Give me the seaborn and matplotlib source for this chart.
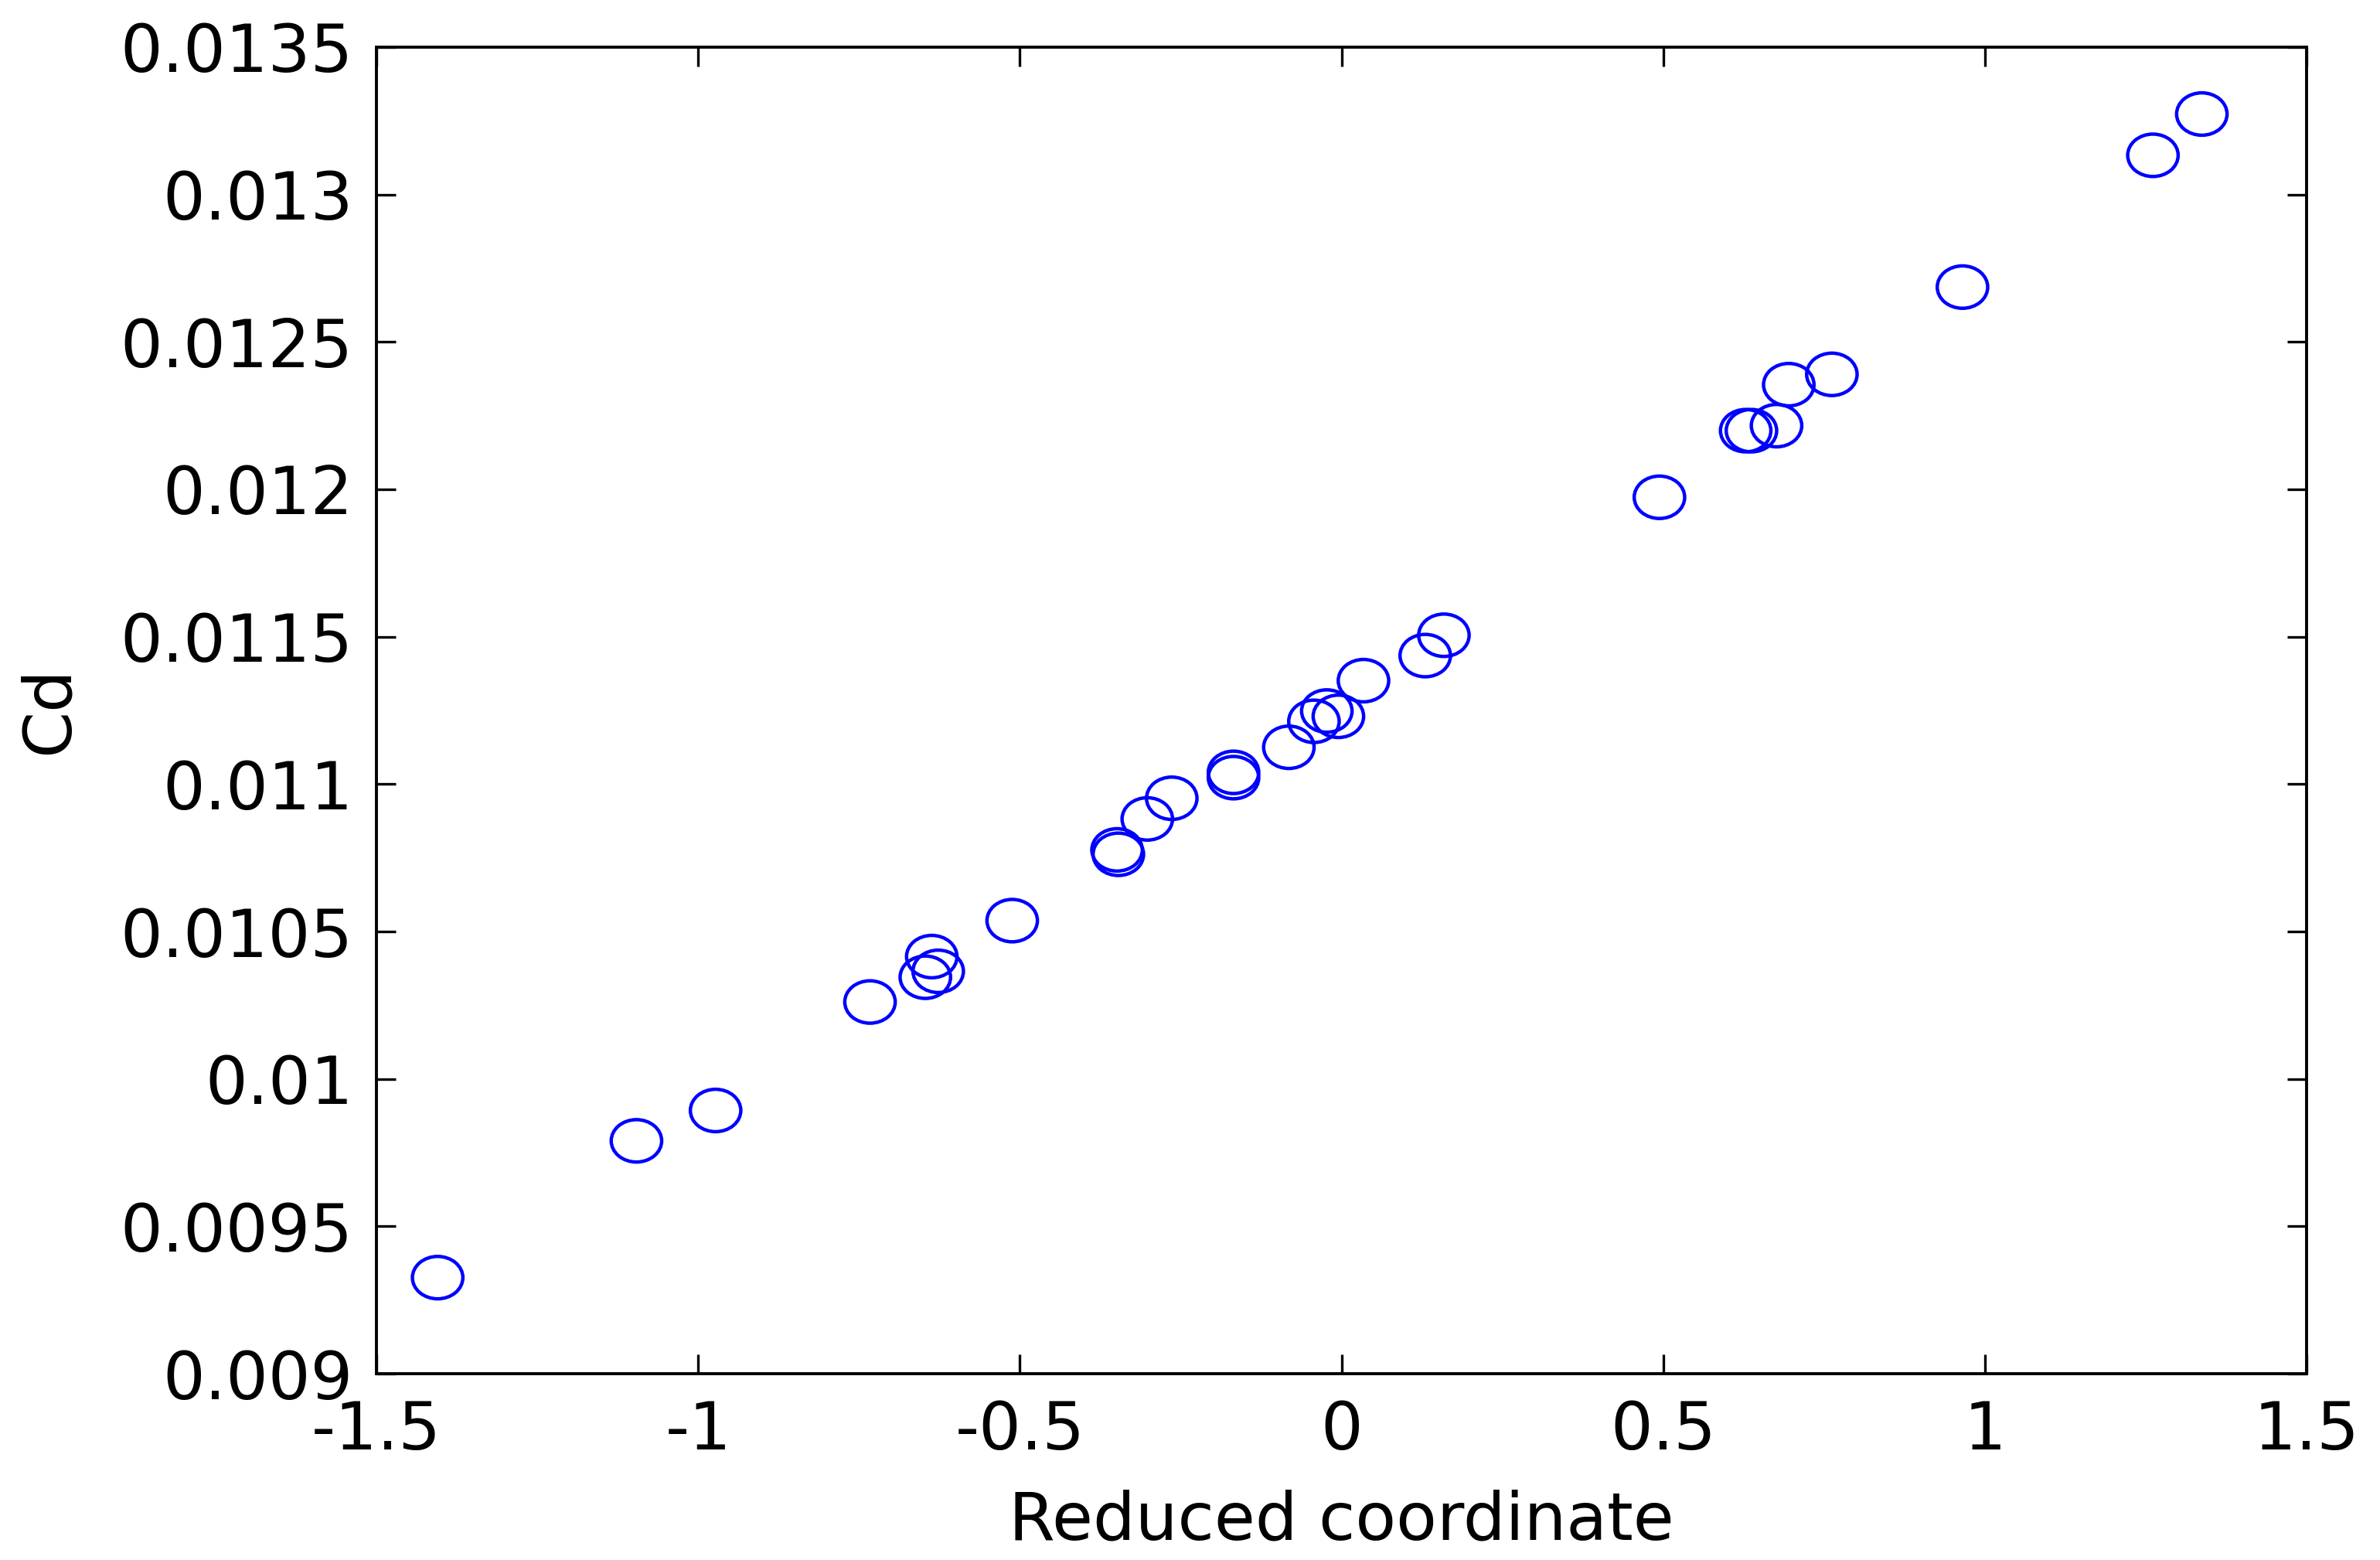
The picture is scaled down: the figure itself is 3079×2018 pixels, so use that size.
import numpy as np
import pandas as pd
import matplotlib
matplotlib.use('Agg')
import matplotlib.pyplot as plt
import seaborn as sns
from matplotlib.path import Path
from matplotlib.transforms import Affine2D
from matplotlib.ticker import FixedLocator, FuncFormatter

# ---- data ----
reduced_coord = [-1.405, -1.096, -0.973, -0.733, -0.647, -0.637, -0.627, -0.512,
                 -0.349, -0.347, -0.302, -0.264, -0.168, -0.168, -0.082, -0.043,
                 -0.023, -0.005, 0.034, 0.130, 0.159, 0.494, 0.628, 0.637,
                 0.676, 0.695, 0.762, 0.965, 1.261, 1.337]
cd_values = [0.009326, 0.009790, 0.009893, 0.010261, 0.010345, 0.010415, 0.010365, 0.010537,
             0.010777, 0.010762, 0.010882, 0.010952, 0.011040, 0.011022, 0.011125, 0.011213,
             0.011248, 0.011230, 0.011351, 0.011436, 0.011505, 0.011973, 0.012199, 0.012199,
             0.012216, 0.012355, 0.012390, 0.012686, 0.013133, 0.013273]

x_ticks = [-1.5, -1, -0.5, 0, 0.5, 1, 1.5]
y_ticks = [0.009, 0.0095, 0.01, 0.0105, 0.011, 0.0115, 0.012, 0.0125, 0.013, 0.0135]

df = pd.DataFrame({'x': reduced_coord, 'cd': cd_values})

sns.set_style('ticks')
# the reference text is horizontally stretched, DejaVu's wider glyphs fit it better
plt.rcParams['font.family'] = ['DejaVu Sans']
plt.rcParams['text.color'] = 'black'
plt.rcParams['axes.labelcolor'] = 'black'

# MATLAB style ellipse marker (wider than tall)
ellipse = Affine2D().scale(1.0, 0.84).transform_path(Path.unit_circle())

fig = plt.figure(figsize=(15.395, 10.09), dpi=200)
ax = fig.add_axes([0.1582, 0.1194, 0.8110, 0.8504])

sns.scatterplot(data=df, x='x', y='cd', ax=ax, marker=ellipse, s=23.5 ** 2,
                facecolor='none', edgecolor='#0000ff', linewidth=1.6, legend=False)

ax.set_xlim(-1.5, 1.5)
ax.set_ylim(0.009, 0.0135)
ax.xaxis.set_major_locator(FixedLocator(x_ticks))
ax.yaxis.set_major_locator(FixedLocator(y_ticks))
fmt = FuncFormatter(lambda v, p: f'{v:g}')
ax.xaxis.set_major_formatter(fmt)
ax.yaxis.set_major_formatter(fmt)

ax.tick_params(direction='in', top=True, right=True, length=9, width=1.2,
               labelsize=31, colors='black')
ax.tick_params(axis='x', pad=12)
ax.tick_params(axis='y', pad=11)
for sp in ax.spines.values():
    sp.set_linewidth(1.4)
    sp.set_color('black')

ax.set_xlabel('Reduced coordinate', fontsize=31, labelpad=12)
ax.set_ylabel('Cd', fontsize=31, labelpad=18)

fig.savefig('out.png', dpi=200)
